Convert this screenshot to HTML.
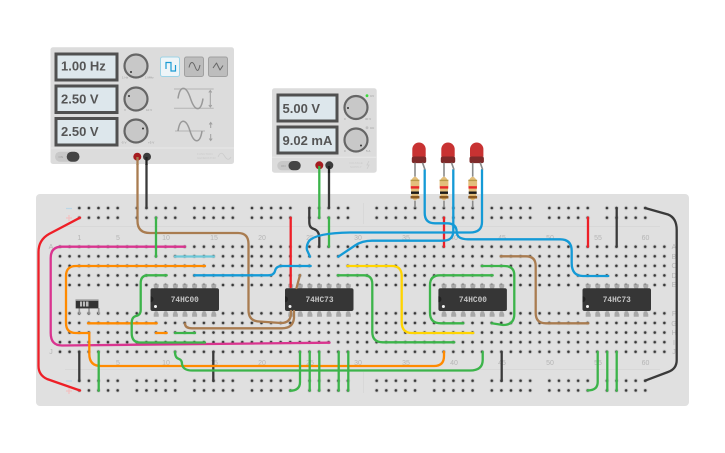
<!DOCTYPE html>
<html><head><meta charset="utf-8"><style>
html,body{margin:0;padding:0;background:#fff;width:725px;height:453px;overflow:hidden}
svg{display:block;filter:blur(.35px)}
text{font-family:"Liberation Sans",sans-serif}
.d{fill:#dde7ec;stroke:#505050;stroke-width:3}
.dt{font-size:13px;font-weight:bold;fill:#555}
.k{fill:#c8c8c8;stroke:#666;stroke-width:2.2}
.n{font-size:7px;fill:#b5b5b5;text-anchor:middle}
.ic{font-family:"Liberation Mono",monospace;font-size:7.8px;font-weight:bold;fill:#c4c4c4;text-anchor:middle}
.w path,.w line{fill:none;stroke-width:2.3;stroke-linecap:round}
.t{font-size:3px;fill:#999}
</style></head><body>
<svg width="725" height="453" viewBox="0 0 725 453" xmlns="http://www.w3.org/2000/svg">
<defs>
<g id="hole"><circle cx="4.8" cy="4.8" r="2.3" fill="#cecece"/><circle cx="4.8" cy="4.8" r="1.3" fill="#363636"/></g>
<pattern id="r1" patternUnits="userSpaceOnUse" x="74.5" y="203.2" width="9.593" height="9.7"><use href="#hole"/></pattern>
<pattern id="r2" patternUnits="userSpaceOnUse" x="74.5" y="375.9" width="9.593" height="9.7"><use href="#hole"/></pattern>
<pattern id="m1" patternUnits="userSpaceOnUse" x="55.2" y="241.9" width="9.593" height="9.58"><use href="#hole"/></pattern>
<pattern id="m2" patternUnits="userSpaceOnUse" x="55.2" y="308.5" width="9.593" height="9.62"><use href="#hole"/></pattern>
<path id="pt" d="M-2.5 -5h5v2.5l-1.3 3h-2.4l-1.3 -3z" fill="#a8a8a8"/>
<path id="pb" d="M-1.2 22h2.4l1.3 3v2.5h-5v-2.5z" fill="#a8a8a8"/>
<g id="chip">
<use href="#pt" x="5.7"/><use href="#pt" x="15.3"/><use href="#pt" x="24.9"/><use href="#pt" x="34.5"/><use href="#pt" x="44.1"/><use href="#pt" x="53.7"/><use href="#pt" x="63.3"/>
<use href="#pb" x="5.7"/><use href="#pb" x="15.3"/><use href="#pb" x="24.9"/><use href="#pb" x="34.5"/><use href="#pb" x="44.1"/><use href="#pb" x="53.7"/><use href="#pb" x="63.3"/>
<rect x="0" y="-1" width="68.5" height="22.7" rx="2" fill="#363636"/>
<path d="M0 7a3 3 0 0 1 0 6z" fill="#222"/>
<circle cx="5" cy="17.2" r="1.5" fill="#f2f2f2"/>
</g>
<g id="led">
<path d="M-6.7 14V6.5a6.7 6.7 0 0 1 13.4 0V14z" fill="#c83232"/>
<rect x="-7.2" y="13.8" width="14.4" height="6.6" rx="2" fill="#7e2a2a"/>
<line x1="-4" y1="20" x2="-4" y2="34" stroke="#8a8a8a" stroke-width="1.6"/>
<path d="M3.5 20L6 27" stroke="#8a8a8a" stroke-width="1.6" fill="none"/>
<line x1="-4" y1="58" x2="-4" y2="65" stroke="#8a8a8a" stroke-width="1.6"/>
<path d="M-7.2 36.5Q-4 31.5 -0.8 36.5L0.4 38.5V43L-0.8 55Q-4 60 -7.2 55L-8.4 43V38.5z" fill="#e3bf7c"/>
<rect x="-8.4" y="37" width="8.8" height="1.4" fill="#b89a4a"/>
<rect x="-8.2" y="43.5" width="8.4" height="2.4" fill="#e8272a"/>
<rect x="-8" y="48.8" width="8" height="2.4" fill="#1c1c1c"/>
<rect x="-8.4" y="53.2" width="8.8" height="2.6" fill="#8a5a22"/>
</g>
</defs>

<!-- breadboard -->
<rect x="36" y="194" width="653" height="212" rx="4" fill="#e0e0e0"/>
<g stroke="#d8d8d8" stroke-width="1"><line x1="65" y1="226.5" x2="660" y2="226.5"/><line x1="65" y1="369.5" x2="660" y2="369.5"/><line x1="363.5" y1="203" x2="363.5" y2="224"/><line x1="363.5" y1="372" x2="363.5" y2="393"/></g>

<g>
<rect x="74.5" y="203.2" width="48" height="19.4" fill="url(#r1)"/><rect x="132" y="203.2" width="48" height="19.4" fill="url(#r1)"/><rect x="189.6" y="203.2" width="48" height="19.4" fill="url(#r1)"/><rect x="247.1" y="203.2" width="48" height="19.4" fill="url(#r1)"/><rect x="304.7" y="203.2" width="48" height="19.4" fill="url(#r1)"/><rect x="371.8" y="203.2" width="48" height="19.4" fill="url(#r1)"/><rect x="429.4" y="203.2" width="48" height="19.4" fill="url(#r1)"/><rect x="486.9" y="203.2" width="48" height="19.4" fill="url(#r1)"/><rect x="544.5" y="203.2" width="48" height="19.4" fill="url(#r1)"/><rect x="602" y="203.2" width="48" height="19.4" fill="url(#r1)"/>
<rect x="74.5" y="375.9" width="48" height="19.4" fill="url(#r2)"/><rect x="132" y="375.9" width="48" height="19.4" fill="url(#r2)"/><rect x="189.6" y="375.9" width="48" height="19.4" fill="url(#r2)"/><rect x="247.1" y="375.9" width="48" height="19.4" fill="url(#r2)"/><rect x="304.7" y="375.9" width="48" height="19.4" fill="url(#r2)"/><rect x="371.8" y="375.9" width="48" height="19.4" fill="url(#r2)"/><rect x="429.4" y="375.9" width="48" height="19.4" fill="url(#r2)"/><rect x="486.9" y="375.9" width="48" height="19.4" fill="url(#r2)"/><rect x="544.5" y="375.9" width="48" height="19.4" fill="url(#r2)"/><rect x="602" y="375.9" width="48" height="19.4" fill="url(#r2)"/>
<rect x="55.2" y="241.9" width="614" height="47.9" fill="url(#m1)"/>
<rect x="55.2" y="308.5" width="614" height="48.1" fill="url(#m2)"/>
</g>

<g class="n">
<text x="79.3" y="240">1</text><text x="118" y="240">5</text><text x="166" y="240">10</text><text x="214" y="240">15</text><text x="262" y="240">20</text><text x="310" y="240">25</text><text x="358" y="240">30</text><text x="406" y="240">35</text><text x="454" y="240">40</text><text x="502" y="240">45</text><text x="550" y="240">50</text><text x="598" y="240">55</text><text x="645.5" y="240">60</text>
<text x="118" y="365">5</text><text x="166" y="365">10</text><text x="214" y="365">15</text><text x="262" y="365">20</text><text x="310" y="365">25</text><text x="358" y="365">30</text><text x="406" y="365">35</text><text x="454" y="365">40</text><text x="502" y="365">45</text><text x="550" y="365">50</text><text x="598" y="365">55</text><text x="645.5" y="365">60</text>
<text x="51" y="249">A</text><text x="51" y="354">J</text>
<text x="674" y="249">A</text><text x="674" y="259">B</text><text x="674" y="268">C</text><text x="674" y="278">D</text><text x="674" y="287">E</text><text x="674" y="316">F</text><text x="674" y="326">G</text><text x="674" y="335">H</text><text x="674" y="345">I</text><text x="674" y="354">J</text>
</g>
<g stroke-width="1.2"><path d="M66 208.5h6" stroke="#bcd6e6"/><path d="M66 218h6M69 215v6" stroke="#f3c0c0"/><path d="M66 381h6" stroke="#bcd6e6"/><path d="M66 391h6M69 388v6" stroke="#f3c0c0"/></g>

<!-- chips -->
<use href="#chip" x="150.5" y="289.3"/><use href="#chip" x="285" y="289.3"/><use href="#chip" x="438.4" y="289.3"/><use href="#chip" x="582.5" y="289.3"/>
<text class="ic" x="184.8" y="302">74HC00</text><text class="ic" x="319.5" y="302">74HC73</text><text class="ic" x="472.9" y="302">74HC00</text><text class="ic" x="616.8" y="302">74HC73</text>

<!-- slide switch -->
<g stroke="#9a9a9a" stroke-width="1.6"><line x1="79.3" y1="308" x2="79.3" y2="314"/><line x1="89" y1="308" x2="89" y2="314"/><line x1="98.7" y1="308" x2="98.7" y2="314"/></g>
<rect x="75.7" y="299.4" width="22.7" height="9" fill="#333"/>
<rect x="75.7" y="299.4" width="22.7" height="1.4" fill="#aaa"/>
<rect x="80" y="301.5" width="8.5" height="5" fill="#bbb"/><rect x="82" y="301.5" width="1" height="5" fill="#444"/><rect x="85" y="301.5" width="1" height="5" fill="#444"/>

<!-- wires -->
<g class="w">
<g stroke="#a97c50">
<path d="M137.5 160V221Q137.5 233 150 233H238Q248.5 233 248.5 244V310Q248.5 321 259 321.5L281 323Q291 323 291 313V311"/>
<path d="M300 275L296.5 288M294 311V318Q293 328.3 282 328.3H192Q185 328.3 185 323.5"/>
<path d="M500.7 256.3H526Q535.7 256.3 535.7 266V313Q535.7 323.3 546 323.3H588.3"/>
</g>
<g stroke="#3a3a3a">
<line x1="146.5" y1="160" x2="146.5" y2="208"/>
<line x1="329" y1="168" x2="329" y2="208"/>
<path d="M309.3 208V222Q309.3 228 314 229Q319.3 231 319.3 238V246.7"/>
<line x1="616.7" y1="208" x2="616.7" y2="246.7"/>
<path d="M645 208L668 214.5Q676.7 218 676.7 230V360Q676.7 369 668 372L645 380.7"/>
<line x1="79.3" y1="351.8" x2="79.3" y2="381"/>
<line x1="213.3" y1="351.8" x2="213.3" y2="381"/>
<line x1="501.7" y1="351.8" x2="501.7" y2="381"/>
</g>
<g stroke="#ee1f27">
<path d="M80 217.7L49 234Q38.5 240 38.5 252V366Q38.5 375 47 379L80 390.5"/>
<line x1="290.7" y1="217.7" x2="290.7" y2="287"/>
<line x1="444" y1="217.7" x2="444" y2="246.7"/>
<line x1="588" y1="217.7" x2="588" y2="246.7"/>
</g>
<g stroke="#d9348f">
<path d="M185 246.7H62Q50.7 246.7 50.7 258V333Q50.7 345.5 62 345.5L329.5 342.7"/>
</g>
<line x1="175" y1="256.5" x2="214" y2="256.5" stroke="#6cc8d8"/>
<g stroke="#ff8a00">
<path d="M205 266H76Q66 266 66 276V323Q66 333 76 333H89.3V354Q89.3 366 101 366H434Q444 366 444 356V351.8"/>
<line x1="88" y1="323.3" x2="156.7" y2="323.3"/>
<line x1="156" y1="333" x2="166.7" y2="333"/>
</g>
<g stroke="#3cb44a">
<line x1="156" y1="217.7" x2="156" y2="256.7"/>
<path d="M166.7 275.3H148Q140.7 275.3 140.7 283V310Q140.7 315 136 316Q131.7 317 131.7 323V333Q131.7 342.5 140 342.5H205"/>
<line x1="175" y1="333" x2="195" y2="333"/>
<path d="M175 351.8Q175 358 179 359Q182 360 182 364Q183 370.5 192 370.5H470Q482.7 370.5 482.7 360V351.8"/>
<line x1="98.7" y1="351.8" x2="98.7" y2="390.7"/>
<line x1="319.3" y1="168" x2="319.3" y2="218"/>
<line x1="329" y1="217.7" x2="329" y2="246.7"/>
<path d="M300 351.8V382Q300 390.7 290 390.7"/>
<line x1="309.7" y1="351.8" x2="309.7" y2="390.7"/><line x1="319.3" y1="351.8" x2="319.3" y2="390.7"/><line x1="338.7" y1="351.8" x2="338.7" y2="390.7"/><line x1="348.3" y1="351.8" x2="348.3" y2="390.7"/>
<path d="M337.7 275.3H364Q372.3 275.3 372.3 284V332Q372.3 342.3 383 342.3H454.3"/>
<path d="M492.7 275.3H440Q430 275.3 430 285V313Q430 323.3 441 323.3H463.3"/>
<path d="M481.7 266H504Q514.3 266 514.3 275V314Q514.3 325 503 325L491.7 323.3"/>
<path d="M597.7 351.8V382Q597.7 390.4 587.7 390.4"/>
<line x1="607.3" y1="351.8" x2="607.3" y2="390.7"/><line x1="616.7" y1="351.8" x2="616.7" y2="390.7"/>
</g>
<path d="M347.3 266H392Q401.7 266 401.7 276V322Q401.7 333 412 333H473.3" stroke="#ffd400"/>
<g stroke="#149ad6">
<path d="M194.3 275.3H268Q274 275.3 275 271Q276 266 282 266H310.7"/>
<path d="M482 170V222Q482 232.5 470 232.5H350Q316 233 309 241Q306 246 307 250L310 256.7"/>
<path d="M453.3 170V231Q453.3 240.7 443 240.7H372Q362 240.7 355 245.5L338.3 256.7"/>
<path d="M424.7 170V213Q424.7 223.3 435 223.3H447Q456.5 223.3 456.7 232Q457 239.3 468 239.3H560Q571.7 239.3 571.7 251V263Q571.7 276 583 276H608.3"/>
</g>
</g>

<!-- LEDs -->
<use href="#led" x="419" y="142.7"/><use href="#led" x="448" y="142.7"/><use href="#led" x="476.7" y="142.7"/>

<!-- function generator -->
<rect x="50.5" y="47.3" width="183.5" height="116.7" rx="2.5" fill="#dcdcdc"/>
<line x1="51" y1="148" x2="234" y2="148" stroke="#e8e8e8"/>
<rect x="56" y="54" width="61" height="26" class="d"/><rect x="56" y="86" width="61" height="26.5" class="d"/><rect x="56" y="118.5" width="61" height="26.5" class="d"/>
<text class="dt" x="61" y="70.5">1.00 Hz</text><text class="dt" x="61" y="103.5">2.50 V</text><text class="dt" x="61" y="136">2.50 V</text>
<circle class="k" cx="136" cy="66" r="11.5"/><circle class="k" cx="136" cy="99" r="11.5"/><circle class="k" cx="136" cy="131" r="11.5"/>
<circle cx="131" cy="72" r="1" fill="#333"/><circle cx="129" cy="96" r="1" fill="#333"/><circle cx="143" cy="128.5" r="1" fill="#333"/>
<text class="t" x="122" y="78.5">1 Hz</text><text class="t" x="145" y="78.5">1 MHz</text><text class="t" x="124" y="111">V</text><text class="t" x="146" y="111">10 V</text><text class="t" x="121" y="143.5">-5 V</text><text class="t" x="148" y="143.5">+5 V</text>
<rect x="160.5" y="57" width="19" height="19.5" rx="2" fill="#eef5f8" stroke="#9dd3e6" stroke-width="1"/>
<rect x="184.5" y="57" width="19" height="19.5" rx="2" fill="#bdbdbd" stroke="#a0a0a0" stroke-width="1"/>
<rect x="208.5" y="57" width="19" height="19.5" rx="2" fill="#bdbdbd" stroke="#a0a0a0" stroke-width="1"/>
<path d="M166 69V62.5H171V71H175.5V65" fill="none" stroke="#1a9bd4" stroke-width="1.2"/>
<path d="M189 67.5C190.5 61 193 61 195 66.5S198.5 72 200 65" fill="none" stroke="#666" stroke-width="1"/>
<path d="M213 68L216.5 63L220 70L223 65.5" fill="none" stroke="#666" stroke-width="1" stroke-linejoin="round"/>
<g fill="none" stroke="#b4b4b4" stroke-width="1">
<path d="M174 89H213.7M174 108.3H213.7"/>
<path d="M210.3 91V106.5M208.8 92.5L210.3 90.5L211.8 92.5M208.8 105L210.3 107L211.8 105" stroke="#a0a0a0"/>
<path d="M178 98.5C180 85 186 85 190.5 98.5S201 112 203 98.5" stroke="#999" stroke-width="1.5"/>
<path d="M175 131H205"/>
<path d="M210.7 123V128M210.7 134V140M209.2 124.5L210.7 122.5L212.2 124.5M209.2 138.5L210.7 140.5L212.2 138.5" stroke="#a0a0a0"/>
<path d="M178 131C180 118 186 118 190 131S200 144 202 131" stroke="#999" stroke-width="1.5"/>
</g>
<rect x="55" y="151.7" width="24.5" height="10" rx="5" fill="#c8c8c8"/><rect x="66.7" y="151.7" width="12.8" height="10" rx="5" fill="#444"/>
<text class="t" x="58.5" y="158">ON</text>
<text class="t" x="197" y="155" style="fill:#ccc">FUNCTION</text><text class="t" x="197" y="159" style="fill:#ccc">GENERATOR</text>
<path d="M218 157Q221 150 224.5 156T231 157" fill="none" stroke="#ccc" stroke-width=".8"/>
<circle cx="137.3" cy="156.7" r="4" fill="#a61c20"/><circle cx="147" cy="156.7" r="4" fill="#3c3c3c"/>
<line x1="137.5" y1="157" x2="137.5" y2="165" stroke="#a97c50" stroke-width="2.3"/><line x1="146.5" y1="157" x2="146.5" y2="165" stroke="#222" stroke-width="2.3"/>

<!-- power supply -->
<rect x="272" y="88.3" width="104.7" height="84.4" rx="2.5" fill="#dcdcdc"/>
<line x1="272" y1="157.3" x2="377" y2="157.3" stroke="#e8e8e8"/>
<rect x="278" y="95" width="59" height="26" class="d"/><rect x="278" y="127" width="59" height="26" class="d"/>
<text class="dt" x="282.5" y="113">5.00 V</text><text class="dt" x="282.5" y="145">9.02 mA</text>
<circle class="k" cx="356" cy="107.5" r="11.5"/><circle class="k" cx="356" cy="140" r="11.5"/>
<circle cx="348" cy="108" r="1" fill="#333"/><circle cx="361" cy="145.5" r="1" fill="#333"/>
<circle cx="367" cy="95.7" r="1.4" fill="#3ddc3d"/><circle cx="367" cy="127.7" r="1.4" fill="#c0c0c0"/>
<text class="t" x="370" y="97">CV</text><text class="t" x="370" y="129">CC</text><text class="t" x="344" y="120">0</text><text class="t" x="365" y="120">30 V</text><text class="t" x="344" y="152">0</text><text class="t" x="366" y="152">5 A</text>
<rect x="277.3" y="161" width="23.4" height="9.3" rx="4.6" fill="#c8c8c8"/><rect x="288.5" y="161" width="12.2" height="9.3" rx="4.6" fill="#444"/>
<text class="t" x="281" y="167">ON</text>
<text class="t" x="349" y="164" style="fill:#ccc">VOLTAGE</text><text class="t" x="350" y="168" style="fill:#ccc">SUPPLY</text>
<path d="M369 161l-2 4h2l-2 4" fill="none" stroke="#ccc" stroke-width=".8"/>
<circle cx="319.3" cy="165.3" r="4" fill="#a61c20"/><circle cx="329.3" cy="165.3" r="4" fill="#3c3c3c"/>
<line x1="319.3" y1="166" x2="319.3" y2="173" stroke="#3cb44a" stroke-width="2.3"/><line x1="329" y1="166" x2="329" y2="173" stroke="#222" stroke-width="2.3"/>
</svg>
</body></html>
